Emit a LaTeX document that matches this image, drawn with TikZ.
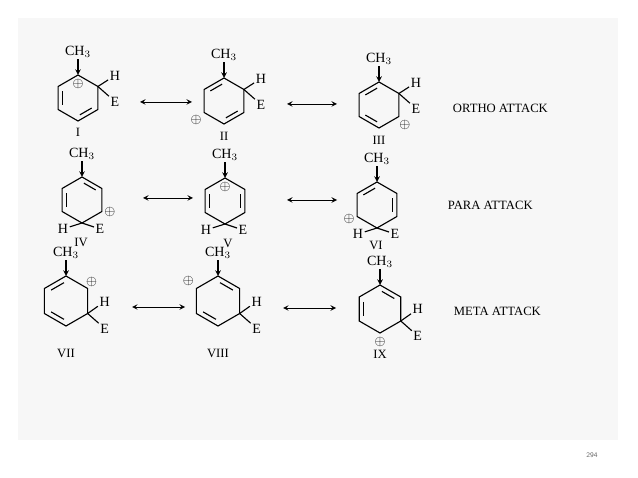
\documentclass[tikz,border=0pt]{standalone}
\usepackage{fontspec}
\setmainfont{Liberation Serif}
\usetikzlibrary{arrows,calc,positioning}

% ring corners: 1 top, then clockwise
\newcommand{\hexring}[4]{%
  \coordinate (#1-c) at (#2,#3);
  \foreach \k/\a in {1/270,2/330,3/30,4/90,5/150,6/210}
    \coordinate (#1-\k) at ($(#1-c)+(\a:#4)$);
  \draw[bond] (#1-1)--(#1-2)--(#1-3)--(#1-4)--(#1-5)--(#1-6)--cycle;
  \node[grp] (#1-me) at ($(#1-1)+(0,-23)$) {CH$_3$};
  \draw[bond,->] (#1-me) -- (#1-1);
}
% inner line of a double bond
\newcommand{\dbond}[3]{%
  \coordinate (tmpa) at ($(#1-c)!0.78!(#1-#2)$);
  \coordinate (tmpb) at ($(#1-c)!0.78!(#1-#3)$);
  \draw[bond] ($(tmpa)!0.12!(tmpb)$) -- ($(tmpb)!0.12!(tmpa)$);
}

\begin{document}
\begin{tikzpicture}[x=0.025cm, y=-0.025cm,
    bond/.style={line width=0.8pt, >=stealth},
    grp/.style={font=\normalsize, inner sep=1pt},
    plus/.style={font=\normalsize, inner sep=0pt},
    tag/.style={font=\small, inner sep=1pt},
    attack/.style={font=\small, anchor=west},
    reso/.style={line width=0.7pt, <->, >=stealth}]
    \useasboundingbox (0,0) rectangle (638,478);
    \fill[black!3] (18,18) rectangle (618,440);

    % Ortho row
    \hexring{I}{78}{98}{23}
    \dbond{I}{6}{5} \dbond{I}{4}{3}
    \node[plus] (I-p) at ($(I-1)+(0,9)$) {$\oplus$};
    \node[grp] (I-h) at ($(I-2)+(17,-11)$) {H};
    \node[grp] (I-e) at ($(I-2)+(17,15)$) {E};
    \draw[bond] (I-2) -- (I-h); \draw[bond] (I-2) -- (I-e);
    \node[tag] (I-n) at ($(I-4)+(0,11)$) {I};

    \hexring{II}{224}{101}{23}
    \dbond{II}{1}{6} \dbond{II}{3}{4}
    \node[plus] (II-p) at ($(II-5)+(-8,7)$) {$\oplus$};
    \node[grp] (II-h) at ($(II-2)+(17,-11)$) {H};
    \node[grp] (II-e) at ($(II-2)+(17,15)$) {E};
    \draw[bond] (II-2) -- (II-h); \draw[bond] (II-2) -- (II-e);
    \node[tag] (II-n) at ($(II-4)+(0,12)$) {II};

    \hexring{III}{379}{105}{23}
    \dbond{III}{1}{6} \dbond{III}{5}{4}
    \node[plus] (III-p) at ($(III-3)+(6,8)$) {$\oplus$};
    \node[grp] (III-h) at ($(III-2)+(17,-11)$) {H};
    \node[grp] (III-e) at ($(III-2)+(17,15)$) {E};
    \draw[bond] (III-2) -- (III-h); \draw[bond] (III-2) -- (III-e);
    \node[tag] (III-n) at ($(III-4)+(0,12)$) {III};

    % Para row
    \hexring{IV}{82}{200}{23}
    \dbond{IV}{1}{2} \dbond{IV}{6}{5}
    \node[plus] (IV-p) at ($(IV-3)+(8,0)$) {$\oplus$};
    \node[grp] (IV-h) at ($(IV-4)+(-19,6)$) {H};
    \node[grp] (IV-e) at ($(IV-4)+(18,6)$) {E};
    \draw[bond] (IV-4) -- (IV-h); \draw[bond] (IV-4) -- (IV-e);
    \node[tag] (IV-n) at ($(IV-4)+(-1,19)$) {IV};

    \hexring{V}{225}{201}{23}
    \dbond{V}{6}{5} \dbond{V}{2}{3}
    \node[plus] (V-p) at ($(V-1)+(0,9)$) {$\oplus$};
    \node[grp] (V-h) at ($(V-4)+(-19,6)$) {H};
    \node[grp] (V-e) at ($(V-4)+(18,6)$) {E};
    \draw[bond] (V-4) -- (V-h); \draw[bond] (V-4) -- (V-e);
    \node[tag] (V-n) at ($(V-4)+(3,19)$) {V};

    \hexring{VI}{377}{205}{23}
    \dbond{VI}{1}{6} \dbond{VI}{2}{3}
    \node[plus] (VI-p) at ($(VI-5)+(-8,2)$) {$\oplus$};
    \node[grp] (VI-h) at ($(VI-4)+(-19,6)$) {H};
    \node[grp] (VI-e) at ($(VI-4)+(18,6)$) {E};
    \draw[bond] (VI-4) -- (VI-h); \draw[bond] (VI-4) -- (VI-e);
    \node[tag] (VI-n) at ($(VI-4)+(-1,17)$) {VI};

    % Meta row
    \hexring{VII}{66}{301}{25}
    \dbond{VII}{1}{6} \dbond{VII}{5}{4}
    \node[plus] (VII-p) at ($(VII-2)+(4,-7)$) {$\oplus$};
    \node[grp] (VII-h) at ($(VII-3)+(17,-12)$) {H};
    \node[grp] (VII-e) at ($(VII-3)+(17,15)$) {E};
    \draw[bond] (VII-3) -- (VII-h); \draw[bond] (VII-3) -- (VII-e);
    \node[tag] (VII-n) at ($(VII-4)+(0,27)$) {VII};

    \hexring{VIII}{218}{301}{25}
    \dbond{VIII}{1}{2} \dbond{VIII}{5}{4}
    \node[plus] (VIII-p) at ($(VIII-6)+(-8,-8)$) {$\oplus$};
    \node[grp] (VIII-h) at ($(VIII-3)+(17,-12)$) {H};
    \node[grp] (VIII-e) at ($(VIII-3)+(17,15)$) {E};
    \draw[bond] (VIII-3) -- (VIII-h); \draw[bond] (VIII-3) -- (VIII-e);
    \node[tag] (VIII-n) at ($(VIII-4)+(0,27)$) {VIII};

    \hexring{IX}{380}{309}{24}
    \dbond{IX}{1}{2} \dbond{IX}{6}{5}
    \node[plus] (IX-p) at ($(IX-4)+(0,9)$) {$\oplus$};
    \node[grp] (IX-h) at ($(IX-3)+(17,-12)$) {H};
    \node[grp] (IX-e) at ($(IX-3)+(17,15)$) {E};
    \draw[bond] (IX-3) -- (IX-h); \draw[bond] (IX-3) -- (IX-e);
    \node[tag] (IX-n) at ($(IX-4)+(0,21)$) {IX};

    % Resonance arrows
    \coordinate (a1) at (140,102); \coordinate (b1) at (192,102);
    \coordinate (a2) at (287,104); \coordinate (b2) at (337,104);
    \coordinate (a3) at (143,198); \coordinate (b3) at (193,198);
    \coordinate (a4) at (287,200); \coordinate (b4) at (337,200);
    \coordinate (a5) at (132,307); \coordinate (b5) at (185,307);
    \coordinate (a6) at (283,308); \coordinate (b6) at (336,308);
    \foreach \i in {1,...,6} \draw[reso] (a\i) -- (b\i);

    % Labels
    \node[attack] (ortho) at (448,108) {ORTHO ATTACK};
    \node[attack] (para) at (443,205) {PARA ATTACK};
    \node[attack] (meta) at (449,311) {META ATTACK};
    \node[font=\sffamily\tiny, text=black!60] (page) at (592,455) {294};
\end{tikzpicture}
\end{document}
